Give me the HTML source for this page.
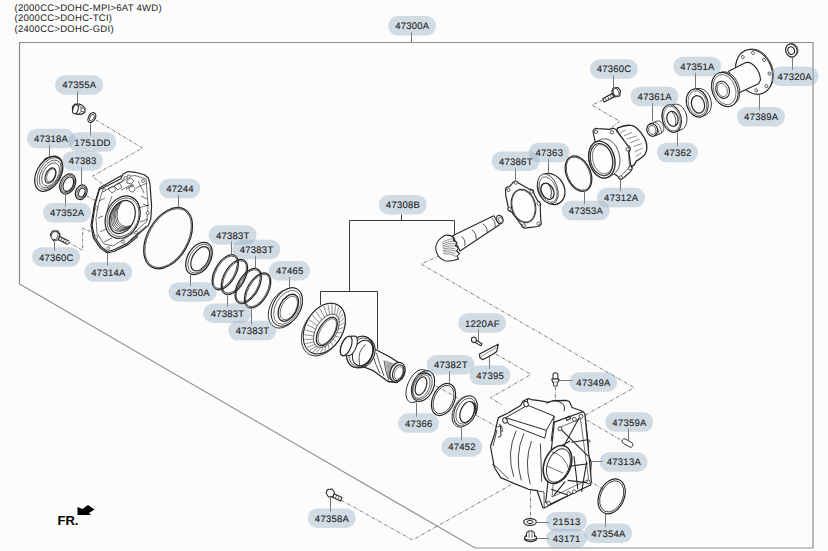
<!DOCTYPE html>
<html><head><meta charset="utf-8"><style>
html,body{margin:0;padding:0;background:#fff;}
svg{display:block;font-family:"Liberation Sans",sans-serif;}
</style></head><body>
<svg width="828" height="551" viewBox="0 0 828 551">
<rect width="828" height="551" fill="#fcfcfc"/>
<polygon points="19.5,42.5 813,42.5 813,548 475,548 19.5,284" fill="none" stroke="#8e8e8e" stroke-width="1.2"/>
<polyline points="96.00,120.00 142.50,148.00 92.00,176.40 106.00,186.50" fill="none" stroke="#444" stroke-width="0.7" stroke-dasharray="3,1.3,0.8,1.3" stroke-linejoin="round"/>
<polyline points="87.00,196.00 97.00,201.50" fill="none" stroke="#444" stroke-width="0.7" stroke-dasharray="3,1.3,0.8,1.3" stroke-linejoin="round"/>
<polyline points="68.00,242.00 82.60,250.40 82.60,228.00 91.00,231.80" fill="none" stroke="#444" stroke-width="0.7" stroke-dasharray="3,1.3,0.8,1.3" stroke-linejoin="round"/>
<polyline points="440.00,255.50 421.00,264.00 634.00,387.70 585.50,415.00" fill="none" stroke="#444" stroke-width="0.7" stroke-dasharray="3.5,1.4,0.8,1.4" stroke-linejoin="round"/>
<polyline points="341.00,500.00 412.50,540.00 512.40,484.00" fill="none" stroke="#444" stroke-width="0.7" stroke-dasharray="3.5,1.4,0.8,1.4" stroke-linejoin="round"/>
<polyline points="602.70,100.00 592.00,105.20 619.90,121.30 611.70,127.30" fill="none" stroke="#444" stroke-width="0.7" stroke-dasharray="3,1.3,0.8,1.3" stroke-linejoin="round"/>
<polyline points="495.80,354.00 531.00,374.40 490.60,397.80 501.80,404.80" fill="none" stroke="#444" stroke-width="0.7" stroke-dasharray="3.5,1.4,0.8,1.4" stroke-linejoin="round"/>
<polyline points="586.30,419.90 621.50,440.30" fill="none" stroke="#444" stroke-width="0.7" stroke-dasharray="3.5,1.4,0.8,1.4" stroke-linejoin="round"/>
<polyline points="555.40,387.00 555.40,410.00" fill="none" stroke="#444" stroke-width="0.7" stroke-dasharray="3.5,1.4,0.8,1.4" stroke-linejoin="round"/>
<polyline points="530.50,490.70 530.50,518.00" fill="none" stroke="#444" stroke-width="0.7" stroke-dasharray="3.5,1.4,0.8,1.4" stroke-linejoin="round"/>
<polyline points="470.00,411.90 496.40,426.50" fill="none" stroke="#444" stroke-width="0.7" stroke-dasharray="3.5,1.4,0.8,1.4" stroke-linejoin="round"/>
<polyline points="436.00,386.00 470.00,405.00" fill="none" stroke="#444" stroke-width="0.7" stroke-dasharray="3.5,1.4,0.8,1.4" stroke-linejoin="round"/>
<polyline points="588.00,480.00 604.00,490.00" fill="none" stroke="#444" stroke-width="0.7" stroke-dasharray="3.5,1.4,0.8,1.4" stroke-linejoin="round"/>
<polyline points="401.50,214.50 401.50,220.50" fill="none" stroke="#262626" stroke-width="0.9" stroke-linejoin="round"/>
<polyline points="349.50,220.50 454.50,220.50 454.50,236.00" fill="none" stroke="#262626" stroke-width="0.9" stroke-linejoin="round"/>
<polyline points="349.50,220.50 349.50,291.50" fill="none" stroke="#262626" stroke-width="0.9" stroke-linejoin="round"/>
<polyline points="320.50,305.00 320.50,291.50 377.50,291.50 377.50,349.00" fill="none" stroke="#262626" stroke-width="0.9" stroke-linejoin="round"/>
<ellipse cx="48.75" cy="173.75" rx="12.00" ry="19.00" transform="rotate(30 48.75 173.75)" fill="#fdfdfd" stroke="#262626" stroke-width="1.23" />
<ellipse cx="49.60" cy="173.60" rx="10.60" ry="17.40" transform="rotate(30 49.60 173.60)" fill="none" stroke="#262626" stroke-width="0.65" />
<ellipse cx="50.20" cy="174.00" rx="9.20" ry="15.20" transform="rotate(30 50.20 174.00)" fill="none" stroke="#262626" stroke-width="0.65" />
<ellipse cx="50.60" cy="174.50" rx="7.60" ry="12.60" transform="rotate(28 50.60 174.50)" fill="none" stroke="#262626" stroke-width="0.65" />
<ellipse cx="50.50" cy="175.50" rx="4.80" ry="8.00" transform="rotate(25 50.50 175.50)" fill="#fdfdfd" stroke="#262626" stroke-width="1.17" />
<ellipse cx="51.00" cy="175.30" rx="3.80" ry="6.80" transform="rotate(25 51.00 175.30)" fill="none" stroke="#262626" stroke-width="0.59" />
<path d="M44,159.5 Q50,155.5 57,157 Q62,159.5 62.5,164" fill="none" stroke="#262626" stroke-width="1.04" stroke-linejoin="round" />
<ellipse cx="67.75" cy="184.00" rx="7.40" ry="10.50" transform="rotate(26 67.75 184.00)" fill="#fdfdfd" stroke="#262626" stroke-width="1.23" />
<ellipse cx="67.90" cy="184.10" rx="6.10" ry="9.10" transform="rotate(26 67.90 184.10)" fill="none" stroke="#262626" stroke-width="0.65" />
<ellipse cx="68.30" cy="184.20" rx="4.80" ry="7.60" transform="rotate(24 68.30 184.20)" fill="#fdfdfd" stroke="#262626" stroke-width="1.17" />
<ellipse cx="81.25" cy="192.25" rx="5.60" ry="7.60" transform="rotate(22 81.25 192.25)" fill="#fdfdfd" stroke="#262626" stroke-width="1.23" />
<ellipse cx="81.50" cy="192.40" rx="4.20" ry="6.00" transform="rotate(22 81.50 192.40)" fill="none" stroke="#262626" stroke-width="0.65" />
<ellipse cx="81.80" cy="192.50" rx="3.00" ry="4.60" transform="rotate(20 81.80 192.50)" fill="#fdfdfd" stroke="#262626" stroke-width="1.04" />
<path d="M72.5,110.5 L72.5,107 L75,104.2 L79.5,104 L82.5,105.5 L85,108.5 L84.8,112.2 L82,114.2 L77.5,114.4 L74.5,113.2 Z" fill="#fdfdfd" stroke="#262626" stroke-width="1.17" stroke-linejoin="round" />
<path d="M78.5,104.5 L81,107.5 L81,111.5 L78.5,114.2 M81,107.5 L84.5,108.5 M81,111.5 L84.7,112" fill="none" stroke="#262626" stroke-width="0.72" stroke-linejoin="round" />
<ellipse cx="75.50" cy="109.20" rx="2.60" ry="4.60" transform="rotate(15 75.50 109.20)" fill="#fdfdfd" stroke="#262626" stroke-width="1.04" />
<ellipse cx="91.90" cy="117.60" rx="3.30" ry="5.40" transform="rotate(30 91.90 117.60)" fill="#fdfdfd" stroke="#262626" stroke-width="1.17" />
<ellipse cx="91.90" cy="117.60" rx="1.90" ry="3.80" transform="rotate(30 91.90 117.60)" fill="#fdfdfd" stroke="#262626" stroke-width="0.78" />
<path d="M57,235 L68.2,240.8 L66.8,244 L55.6,238.2 Z" fill="#fdfdfd" stroke="#262626" stroke-width="1.10" stroke-linejoin="round" />
<path d="M59.5,236.5 L58.3,239.6 M62,237.8 L60.8,240.9 M64.5,239.1 L63.3,242.2" fill="none" stroke="#262626" stroke-width="0.65" stroke-linejoin="round" />
<path d="M50.3,234.5 L52.6,231 L57.5,230.8 L60,234.4 L58.3,239.8 L53.5,240.7 Z" fill="#fdfdfd" stroke="#262626" stroke-width="1.17" stroke-linejoin="round" />
<ellipse cx="54.60" cy="235.60" rx="3.20" ry="4.20" transform="rotate(20 54.60 235.60)" fill="#fdfdfd" stroke="#262626" stroke-width="0.72" />
<ellipse cx="67.50" cy="242.40" rx="1.60" ry="1.90" transform="rotate(25 67.50 242.40)" fill="#fdfdfd" stroke="#262626" stroke-width="0.78" />
<path d="M121.6,175.5 L99.5,188 L94.5,204.2 L91,225.4 L93.3,237.6 L100,247.8 L107.3,253 L114.5,251.2 L128,244.6 L138,236.4" fill="none" stroke="#262626" stroke-width="1.17" stroke-linejoin="round" />
<path d="M123.1,174 L128,171.5 L135.3,172.3 L144.3,174.8 L148.4,178 L150,184.6 L151.6,205.8 L150.8,218.8 L148.4,225.4 L137,235.2 L127.2,243.3 L114.1,249.8 L107.6,251.5 L101,246.6 L94.5,236.8 L92.1,225.4 L95.3,204.2 L99.4,189.5 L107.6,185.4 L120.6,178.9 Z" fill="#fdfdfd" stroke="#262626" stroke-width="1.17" stroke-linejoin="round" />
<path d="M124.5,177 L135,175.5 L146,179 L148,205 L147,221 L135,232 L113,246 L104,244 L97,233 L96,218 L98.5,204 L102,192 L110,188 L122,182 Z" fill="none" stroke="#262626" stroke-width="0.65" stroke-linejoin="round" />
<ellipse cx="122.65" cy="217.20" rx="16.52" ry="22.01" transform="rotate(24 122.65 217.20)" fill="#fdfdfd" stroke="#262626" stroke-width="1.17" />
<ellipse cx="123.00" cy="217.25" rx="15.09" ry="19.97" transform="rotate(24 123.00 217.25)" fill="#fdfdfd" stroke="#262626" stroke-width="0.65" />
<ellipse cx="122.25" cy="217.00" rx="12.05" ry="17.25" transform="rotate(24 122.25 217.00)" fill="#fdfdfd" stroke="#262626" stroke-width="1.17" />
<clipPath id="cpb"><ellipse cx="122.25" cy="216.75" rx="11.75" ry="16.95" transform="rotate(30 122.25 216.75)"/></clipPath>
<g clip-path="url(#cpb)">
<ellipse cx="123.50" cy="215.50" rx="12.05" ry="17.25" transform="rotate(30 123.50 215.50)" fill="none" stroke="#262626" stroke-width="0.65" />
<ellipse cx="124.90" cy="214.50" rx="12.05" ry="17.25" transform="rotate(30 124.90 214.50)" fill="none" stroke="#262626" stroke-width="0.65" />
<ellipse cx="126.30" cy="213.50" rx="12.05" ry="17.25" transform="rotate(30 126.30 213.50)" fill="none" stroke="#262626" stroke-width="0.65" />
<ellipse cx="127.70" cy="212.50" rx="12.05" ry="17.25" transform="rotate(30 127.70 212.50)" fill="none" stroke="#262626" stroke-width="0.65" />
<ellipse cx="129.10" cy="211.50" rx="12.05" ry="17.25" transform="rotate(30 129.10 211.50)" fill="none" stroke="#262626" stroke-width="0.65" />
<ellipse cx="130.50" cy="210.50" rx="12.05" ry="17.25" transform="rotate(30 130.50 210.50)" fill="none" stroke="#262626" stroke-width="0.65" />
</g>
<circle cx="128.8" cy="176.4" r="1.5" fill="#fdfdfd" stroke="#262626" stroke-width="0.6"/>
<circle cx="143" cy="181" r="1.5" fill="#fdfdfd" stroke="#262626" stroke-width="0.6"/>
<circle cx="147.6" cy="213.1" r="1.5" fill="#fdfdfd" stroke="#262626" stroke-width="0.6"/>
<circle cx="136.1" cy="232.7" r="1.5" fill="#fdfdfd" stroke="#262626" stroke-width="0.6"/>
<circle cx="123.1" cy="241.7" r="1.5" fill="#fdfdfd" stroke="#262626" stroke-width="0.6"/>
<circle cx="108.4" cy="248.2" r="1.5" fill="#fdfdfd" stroke="#262626" stroke-width="0.6"/>
<circle cx="96.2" cy="236.8" r="1.5" fill="#fdfdfd" stroke="#262626" stroke-width="0.6"/>
<circle cx="96.5" cy="208" r="1.5" fill="#fdfdfd" stroke="#262626" stroke-width="0.6"/>
<circle cx="104" cy="190" r="1.5" fill="#fdfdfd" stroke="#262626" stroke-width="0.6"/>
<path d="M108,189 l5,-3 l3,4 l-4,3 z M114,186 l5,-3 l3,4 l-4,3 z M127,180 l4,-2 l3,3 l-3,3 l-4,-1 z M132,186 a3,3 0 1,0 0.1,0 M126,189 l8,-4 M138,181 l6,12 M141,196 l6,3 M143,204 l5,2 M99,201 l6,-3 M98,218 l5,-2 M117,184 L128,178 M121,190 L133,184 M136,188 L147,183 M138,208 L149,205 M140,222 L148,219 M100,232 L106,229 M104,242 L112,238 M130,240 L146,226 M112,196 Q108,205 107,212" fill="none" stroke="#262626" stroke-width="0.65" stroke-linejoin="round" />
<ellipse cx="168.10" cy="238.10" rx="20.60" ry="33.30" transform="rotate(30 168.10 238.10)" fill="none" stroke="#262626" stroke-width="1.23" />
<ellipse cx="168.10" cy="238.10" rx="19.40" ry="32.10" transform="rotate(30 168.10 238.10)" fill="none" stroke="#262626" stroke-width="0.72" />
<ellipse cx="199.00" cy="258.50" rx="11.40" ry="17.60" transform="rotate(31 199.00 258.50)" fill="#fdfdfd" stroke="#262626" stroke-width="1.23" />
<ellipse cx="199.50" cy="258.70" rx="9.80" ry="15.80" transform="rotate(31 199.50 258.70)" fill="none" stroke="#262626" stroke-width="0.65" />
<ellipse cx="200.20" cy="258.80" rx="7.80" ry="13.20" transform="rotate(30 200.20 258.80)" fill="#fdfdfd" stroke="#262626" stroke-width="1.17" />
<ellipse cx="225.30" cy="272.25" rx="10.30" ry="19.30" transform="rotate(30 225.30 272.25)" fill="none" stroke="#262626" stroke-width="1.23" />
<ellipse cx="225.30" cy="272.25" rx="9.10" ry="18.10" transform="rotate(30 225.30 272.25)" fill="none" stroke="#262626" stroke-width="0.72" />
<ellipse cx="234.45" cy="276.95" rx="10.30" ry="19.30" transform="rotate(30 234.45 276.95)" fill="none" stroke="#262626" stroke-width="1.23" />
<ellipse cx="234.45" cy="276.95" rx="9.10" ry="18.10" transform="rotate(30 234.45 276.95)" fill="none" stroke="#262626" stroke-width="0.72" />
<ellipse cx="248.20" cy="286.00" rx="10.30" ry="19.30" transform="rotate(30 248.20 286.00)" fill="none" stroke="#262626" stroke-width="1.23" />
<ellipse cx="248.20" cy="286.00" rx="9.10" ry="18.10" transform="rotate(30 248.20 286.00)" fill="none" stroke="#262626" stroke-width="0.72" />
<ellipse cx="257.60" cy="290.45" rx="10.30" ry="19.30" transform="rotate(30 257.60 290.45)" fill="none" stroke="#262626" stroke-width="1.23" />
<ellipse cx="257.60" cy="290.45" rx="9.10" ry="18.10" transform="rotate(30 257.60 290.45)" fill="none" stroke="#262626" stroke-width="0.72" />
<polygon points="268.33,314.75 268.40,313.12 268.60,311.44 268.92,309.75 269.35,308.05 269.90,306.35 270.57,304.67 271.33,303.01 272.20,301.40 273.16,299.84 274.21,298.35 275.34,296.93 276.54,295.61 277.79,294.38 279.10,293.26 280.45,292.25 281.83,291.37 283.23,290.62 284.64,290.00 287.12,288.96 288.48,288.49 289.83,288.15 291.16,287.96 292.45,287.91 293.70,288.01 294.90,288.25 296.03,288.64 297.10,289.16 298.09,289.82 298.99,290.61 299.80,291.53 300.51,292.56 301.11,293.71 301.61,294.95 301.99,296.29 302.26,297.70 302.41,299.19 302.44,300.74 302.36,302.34 302.15,303.97 301.83,305.62 301.39,307.29 300.84,308.95 300.19,310.60 299.43,312.22 298.58,313.80 297.64,315.33 296.61,316.79 295.51,318.19 294.34,319.49 292.46,321.39 291.21,322.62 289.90,323.74 288.55,324.75 287.17,325.63 285.77,326.38 284.36,327.00 282.95,327.47 281.56,327.80 280.18,327.98 278.84,328.02 277.54,327.90 276.29,327.64 275.11,327.24 274.00,326.69 272.97,326.00 272.02,325.18 271.17,324.23 270.43,323.16 269.79,321.98 269.26,320.70 268.85,319.33 268.55,317.87 268.38,316.34" fill="#fdfdfd" stroke="#262626" stroke-width="1.0" stroke-linejoin="round"/>
<ellipse cx="286.80" cy="307.00" rx="13.60" ry="20.60" transform="rotate(30 286.80 307.00)" fill="#fdfdfd" stroke="#262626" stroke-width="1.04" />
<ellipse cx="287.20" cy="307.30" rx="11.60" ry="18.40" transform="rotate(30 287.20 307.30)" fill="none" stroke="#262626" stroke-width="0.59" />
<ellipse cx="288.30" cy="307.80" rx="8.60" ry="14.60" transform="rotate(28 288.30 307.80)" fill="#fdfdfd" stroke="#262626" stroke-width="1.30" />
<ellipse cx="288.80" cy="308.00" rx="7.20" ry="12.80" transform="rotate(28 288.80 308.00)" fill="none" stroke="#262626" stroke-width="0.59" />
<polygon points="301.42,338.52 301.50,336.39 301.75,334.22 302.15,332.03 302.71,329.82 303.42,327.61 304.28,325.43 305.27,323.29 306.39,321.20 307.64,319.18 309.00,317.25 310.46,315.42 312.01,313.70 313.81,311.80 315.45,310.22 317.15,308.77 318.91,307.47 320.70,306.33 322.53,305.37 324.36,304.58 326.20,303.97 328.02,303.55 329.82,303.32 331.57,303.28 333.27,303.44 334.90,303.79 336.44,304.32 337.90,305.04 339.25,305.94 340.49,307.02 341.61,308.25 342.59,309.65 343.43,311.18 344.13,312.85 344.68,314.64 345.07,316.53 345.31,318.52 345.38,320.58 345.30,322.71 345.05,324.88 344.65,327.07 344.09,329.28 343.38,331.49 342.52,333.67 341.53,335.81 340.41,337.90 339.16,339.92 337.80,341.85 336.34,343.68 334.79,345.40 332.99,347.30 331.35,348.88 329.65,350.33 327.89,351.63 326.10,352.77 324.27,353.73 322.44,354.52 320.60,355.13 318.78,355.55 316.98,355.78 315.23,355.82 313.53,355.66 311.90,355.31 310.36,354.78 308.90,354.06 307.55,353.16 306.31,352.08 305.19,350.85 304.21,349.45 303.37,347.92 302.67,346.25 302.12,344.46 301.73,342.57 301.49,340.58" fill="#fdfdfd" stroke="#262626" stroke-width="0.95" stroke-linejoin="round"/>
<ellipse cx="324.30" cy="328.60" rx="18.60" ry="27.20" transform="rotate(30 324.30 328.60)" fill="#fdfdfd" stroke="#262626" stroke-width="1.10" />
<line x1="339.54" y1="337.40" x2="335.33" y2="336.10" stroke="#262626" stroke-width="0.5"/>
<line x1="336.51" y1="341.89" x2="333.27" y2="339.23" stroke="#262626" stroke-width="0.5"/>
<line x1="332.94" y1="345.80" x2="330.91" y2="342.00" stroke="#262626" stroke-width="0.5"/>
<line x1="328.99" y1="348.95" x2="328.36" y2="344.29" stroke="#262626" stroke-width="0.5"/>
<line x1="324.84" y1="351.22" x2="325.72" y2="346.00" stroke="#262626" stroke-width="0.5"/>
<line x1="320.66" y1="352.50" x2="323.12" y2="347.05" stroke="#262626" stroke-width="0.5"/>
<line x1="316.65" y1="352.73" x2="320.67" y2="347.40" stroke="#262626" stroke-width="0.5"/>
<line x1="312.96" y1="351.91" x2="318.47" y2="347.04" stroke="#262626" stroke-width="0.5"/>
<line x1="309.78" y1="350.07" x2="316.63" y2="345.97" stroke="#262626" stroke-width="0.5"/>
<line x1="307.23" y1="347.30" x2="315.21" y2="344.25" stroke="#262626" stroke-width="0.5"/>
<line x1="305.42" y1="343.70" x2="314.29" y2="341.95" stroke="#262626" stroke-width="0.5"/>
<line x1="304.44" y1="339.44" x2="313.90" y2="339.17" stroke="#262626" stroke-width="0.5"/>
<line x1="304.33" y1="334.72" x2="314.06" y2="336.04" stroke="#262626" stroke-width="0.5"/>
<line x1="305.09" y1="329.72" x2="314.77" y2="332.68" stroke="#262626" stroke-width="0.5"/>
<line x1="306.69" y1="324.67" x2="315.99" y2="329.25" stroke="#262626" stroke-width="0.5"/>
<line x1="309.06" y1="319.80" x2="317.67" y2="325.90" stroke="#262626" stroke-width="0.5"/>
<line x1="312.09" y1="315.31" x2="319.73" y2="322.77" stroke="#262626" stroke-width="0.5"/>
<line x1="315.66" y1="311.40" x2="322.09" y2="320.00" stroke="#262626" stroke-width="0.5"/>
<line x1="319.61" y1="308.25" x2="324.64" y2="317.71" stroke="#262626" stroke-width="0.5"/>
<line x1="323.76" y1="305.98" x2="327.28" y2="316.00" stroke="#262626" stroke-width="0.5"/>
<line x1="327.94" y1="304.70" x2="329.88" y2="314.95" stroke="#262626" stroke-width="0.5"/>
<line x1="331.95" y1="304.47" x2="332.33" y2="314.60" stroke="#262626" stroke-width="0.5"/>
<line x1="335.64" y1="305.29" x2="334.53" y2="314.96" stroke="#262626" stroke-width="0.5"/>
<line x1="338.82" y1="307.13" x2="336.37" y2="316.03" stroke="#262626" stroke-width="0.5"/>
<line x1="341.37" y1="309.90" x2="337.79" y2="317.75" stroke="#262626" stroke-width="0.5"/>
<line x1="343.18" y1="313.50" x2="338.71" y2="320.05" stroke="#262626" stroke-width="0.5"/>
<line x1="344.16" y1="317.76" x2="339.10" y2="322.83" stroke="#262626" stroke-width="0.5"/>
<line x1="344.27" y1="322.48" x2="338.94" y2="325.96" stroke="#262626" stroke-width="0.5"/>
<line x1="343.51" y1="327.48" x2="338.23" y2="329.32" stroke="#262626" stroke-width="0.5"/>
<line x1="341.91" y1="332.53" x2="337.01" y2="332.75" stroke="#262626" stroke-width="0.5"/>
<ellipse cx="326.30" cy="330.80" rx="10.40" ry="18.40" transform="rotate(30 326.30 330.80)" fill="none" stroke="#262626" stroke-width="0.65" />
<ellipse cx="326.80" cy="331.40" rx="8.00" ry="15.80" transform="rotate(30 326.80 331.40)" fill="#fdfdfd" stroke="#262626" stroke-width="1.23" />
<ellipse cx="327.20" cy="331.60" rx="6.80" ry="14.40" transform="rotate(30 327.20 331.60)" fill="none" stroke="#262626" stroke-width="0.59" />
<path d="M366,344.5 L389,356.5 L397,361.5 L404.5,368 L397,382.5 L388,381.5 L372.7,370.3 L360,365.5 Z" fill="#fdfdfd" stroke="#262626" stroke-width="1.30" stroke-linejoin="round" />
<path d="M373,355 Q375,364 380,373.5 M376.5,353 Q379,363 384,376 M384,360.5 Q385,371 389,380.5" fill="none" stroke="#262626" stroke-width="0.78" stroke-linejoin="round" />
<line x1="385.5" y1="360.5" x2="388.5" y2="378.5" stroke="#262626" stroke-width="0.45"/>
<line x1="386.7" y1="360.9" x2="389.5" y2="379.0" stroke="#262626" stroke-width="0.45"/>
<line x1="387.9" y1="361.3" x2="390.5" y2="379.5" stroke="#262626" stroke-width="0.45"/>
<line x1="389.1" y1="361.7" x2="391.5" y2="380.0" stroke="#262626" stroke-width="0.45"/>
<line x1="390.3" y1="362.1" x2="392.5" y2="380.5" stroke="#262626" stroke-width="0.45"/>
<line x1="391.5" y1="362.5" x2="393.5" y2="381.0" stroke="#262626" stroke-width="0.45"/>
<line x1="392.7" y1="362.9" x2="394.5" y2="381.5" stroke="#262626" stroke-width="0.45"/>
<line x1="393.9" y1="363.3" x2="395.5" y2="382.0" stroke="#262626" stroke-width="0.45"/>
<line x1="395.1" y1="363.7" x2="396.5" y2="382.5" stroke="#262626" stroke-width="0.45"/>
<ellipse cx="397.50" cy="372.20" rx="7.20" ry="10.20" transform="rotate(22 397.50 372.20)" fill="#fdfdfd" stroke="#262626" stroke-width="1.30" />
<ellipse cx="398.20" cy="372.60" rx="5.20" ry="8.20" transform="rotate(22 398.20 372.60)" fill="#fdfdfd" stroke="#262626" stroke-width="1.17" />
<ellipse cx="398.60" cy="372.90" rx="3.80" ry="6.60" transform="rotate(22 398.60 372.90)" fill="#fdfdfd" stroke="#262626" stroke-width="0.52" />
<polygon points="346.51,354.70 346.57,353.34 346.74,351.97 347.01,350.60 347.38,349.24 347.84,347.90 348.40,346.59 349.04,345.32 349.77,344.11 350.58,342.95 351.45,341.86 352.40,340.85 353.40,339.93 354.45,339.10 355.54,338.36 356.67,337.73 357.82,337.21 358.99,336.80 360.17,336.50 361.34,336.33 362.51,336.27 363.65,336.33 364.77,336.51 365.85,336.81 366.89,337.23 367.87,337.75 368.80,338.39 370.61,339.77 371.43,340.48 372.18,341.28 372.85,342.17 373.44,343.13 373.94,344.18 374.36,345.28 374.68,346.45 374.91,347.66 375.04,348.91 375.07,350.20 375.01,351.50 374.85,352.81 374.59,354.12 374.23,355.42 373.79,356.70 373.26,357.96 372.64,359.17 371.94,360.33 371.17,361.44 370.34,362.48 369.43,363.45 368.48,364.33 367.48,365.13 366.43,365.84 365.36,366.44 364.26,366.94 363.14,367.34 362.02,367.62 360.90,367.79 359.79,367.85 357.49,367.73 356.35,367.67 355.23,367.49 354.15,367.19 353.11,366.77 352.13,366.25 351.20,365.61 350.34,364.87 349.56,364.03 348.85,363.10 348.23,362.09 347.70,361.00 347.27,359.84 346.93,358.62 346.69,357.35 346.55,356.04" fill="#fdfdfd" stroke="#262626" stroke-width="1.05" stroke-linejoin="round"/>
<ellipse cx="360.00" cy="352.00" rx="12.80" ry="16.30" transform="rotate(25 360.00 352.00)" fill="#fdfdfd" stroke="#262626" stroke-width="1.17" />
<ellipse cx="361.00" cy="352.30" rx="11.40" ry="15.00" transform="rotate(25 361.00 352.30)" fill="none" stroke="#262626" stroke-width="0.65" />
<ellipse cx="362.60" cy="353.00" rx="9.60" ry="13.20" transform="rotate(25 362.60 353.00)" fill="none" stroke="#262626" stroke-width="1.04" />
<path d="M366,344.5 Q357,350 359.5,365" fill="none" stroke="#262626" stroke-width="0.78" stroke-linejoin="round" />
<polygon points="340.31,350.76 340.34,350.00 340.42,349.22 340.54,348.41 340.70,347.58 340.90,346.73 341.15,345.89 341.43,345.04 341.75,344.20 342.10,343.38 342.49,342.57 342.90,341.79 343.34,341.04 343.80,340.33 344.27,339.67 344.77,339.05 345.27,338.48 345.78,337.98 346.30,337.53 346.81,337.15 347.32,336.83 347.82,336.58 348.30,336.41 348.78,336.31 349.23,336.28 354.53,336.08 354.96,336.13 355.36,336.25 355.73,336.44 356.07,336.71 356.38,337.04 356.65,337.44 356.88,337.90 357.07,338.43 357.21,339.01 357.32,339.64 357.38,340.32 357.39,341.04 357.36,341.80 357.28,342.58 357.16,343.39 357.00,344.22 356.80,345.07 356.55,345.91 356.27,346.76 355.95,347.60 355.60,348.42 355.21,349.23 354.80,350.01 354.36,350.76 353.90,351.47 353.43,352.13 352.93,352.75 352.43,353.32 351.92,353.82 351.40,354.27 350.89,354.65 350.38,354.97 349.88,355.22 349.40,355.39 348.92,355.49 348.47,355.52 343.17,355.72 342.74,355.67 342.34,355.55 341.97,355.36 341.63,355.09 341.32,354.76 341.05,354.36 340.82,353.90 340.63,353.37 340.49,352.79 340.38,352.16 340.32,351.48" fill="#fdfdfd" stroke="#262626" stroke-width="1.05" stroke-linejoin="round"/>
<ellipse cx="346.20" cy="346.00" rx="4.80" ry="10.30" transform="rotate(22 346.20 346.00)" fill="#fdfdfd" stroke="#262626" stroke-width="1.17" />
<polygon points="405.99,393.41 406.03,392.10 406.16,390.75 406.37,389.37 406.67,387.95 407.04,386.52 407.49,385.09 408.01,383.67 408.60,382.26 409.25,380.88 409.96,379.54 410.72,378.25 411.54,377.02 412.39,375.85 413.28,374.77 414.20,373.76 415.14,372.86 416.09,372.05 417.05,371.35 418.01,370.76 418.96,370.28 419.90,369.93 420.81,369.70 421.70,369.59 422.55,369.61 423.36,369.75 428.65,371.07 429.51,371.38 430.32,371.81 431.07,372.35 431.77,372.99 432.40,373.73 432.95,374.56 433.43,375.48 433.83,376.48 434.15,377.55 434.38,378.68 434.53,379.88 434.59,381.11 434.56,382.39 434.44,383.69 434.24,385.01 433.95,386.34 433.58,387.67 433.12,388.98 432.59,390.27 431.99,391.53 431.32,392.74 430.58,393.91 429.79,395.01 428.94,396.05 428.05,397.01 427.12,397.88 426.16,398.67 425.18,399.36 424.18,399.94 423.17,400.42 422.16,400.79 421.16,401.05 413.19,402.30 412.30,402.41 411.45,402.39 410.64,402.25 409.88,401.99 409.18,401.60 408.53,401.09 407.95,400.47 407.44,399.74 407.00,398.91 406.63,397.97 406.35,396.95 406.14,395.84 406.02,394.66" fill="#fdfdfd" stroke="#262626" stroke-width="1.0" stroke-linejoin="round"/>
<ellipse cx="423.00" cy="386.00" rx="10.50" ry="16.00" transform="rotate(24 423.00 386.00)" fill="#fdfdfd" stroke="#262626" stroke-width="1.04" />
<ellipse cx="422.20" cy="386.30" rx="9.00" ry="14.20" transform="rotate(24 422.20 386.30)" fill="#fdfdfd" stroke="#262626" stroke-width="0.65" />
<ellipse cx="421.50" cy="386.50" rx="7.60" ry="12.50" transform="rotate(24 421.50 386.50)" fill="#fdfdfd" stroke="#262626" stroke-width="0.65" />
<ellipse cx="421.00" cy="386.00" rx="5.20" ry="9.60" transform="rotate(20 421.00 386.00)" fill="#fdfdfd" stroke="#262626" stroke-width="1.17" />
<path d="M418,374.5 Q426,370.5 431,376" fill="none" stroke="#262626" stroke-width="1.30" stroke-linejoin="round" />
<ellipse cx="443.50" cy="399.55" rx="10.90" ry="16.88" transform="rotate(24 443.50 399.55)" fill="none" stroke="#262626" stroke-width="1.17" />
<ellipse cx="443.50" cy="399.55" rx="9.34" ry="15.03" transform="rotate(24 443.50 399.55)" fill="none" stroke="#262626" stroke-width="0.78" />
<polygon points="452.12,416.24 452.21,414.93 452.39,413.60 452.66,412.25 453.01,410.89 453.45,409.54 453.97,408.21 454.56,406.90 455.23,405.62 455.96,404.39 456.76,403.22 457.61,402.10 458.50,401.06 459.44,400.10 460.42,399.22 461.42,398.44 462.44,397.76 463.47,397.18 464.51,396.71 465.55,396.36 466.57,396.11 467.57,395.99 468.86,395.91 469.83,395.92 470.77,396.04 471.66,396.27 472.51,396.62 473.31,397.08 474.05,397.64 474.72,398.30 475.32,399.06 475.85,399.91 476.29,400.85 476.66,401.86 476.94,402.94 477.13,404.09 477.24,405.28 477.25,406.52 477.18,407.80 477.02,409.09 476.77,410.41 476.43,411.72 476.01,413.04 475.51,414.33 474.94,415.60 474.29,416.84 473.58,418.03 472.80,419.17 471.97,420.24 471.09,421.25 470.17,422.18 469.21,423.02 468.22,423.77 467.21,424.42 466.19,424.97 464.53,425.82 463.49,426.29 462.45,426.64 461.43,426.89 460.43,427.01 459.46,427.02 458.52,426.90 457.62,426.67 456.77,426.33 455.97,425.87 455.24,425.31 454.57,424.63 453.98,423.86 453.46,423.00 453.02,422.04 452.66,421.01 452.39,419.90 452.21,418.73 452.12,417.51" fill="#fdfdfd" stroke="#262626" stroke-width="1.0" stroke-linejoin="round"/>
<ellipse cx="465.50" cy="411.00" rx="10.50" ry="16.00" transform="rotate(26 465.50 411.00)" fill="#fdfdfd" stroke="#262626" stroke-width="0.91" />
<ellipse cx="465.80" cy="411.20" rx="8.80" ry="13.80" transform="rotate(26 465.80 411.20)" fill="#fdfdfd" stroke="#262626" stroke-width="0.65" />
<ellipse cx="467.20" cy="412.00" rx="6.60" ry="11.00" transform="rotate(22 467.20 412.00)" fill="#fdfdfd" stroke="#262626" stroke-width="1.17" />
<path d="M472,402 Q477,405 476,414" fill="none" stroke="#262626" stroke-width="1.43" stroke-linejoin="round" />
<path d="M498.3,417.6 L507.6,413.2 L520.7,405.6 L522.8,401.3 L528.3,398.5 L531.5,399.6 L539.2,400.7 L549,402.3 L553.3,400.7 L566.1,400.4 L569.4,401.5 L572.1,407.5 L582.5,411.3 L584.7,414.6 L587.9,440.8 L588.5,455 L591.2,462.2 L589.9,484.4 L544.2,508 L542.8,507.6 L540.1,499.5 L537.2,490.7 L528.5,489.3 L513.9,483.4 L500.7,477.6 L494.4,467.5 L490.5,446.3 L494.5,434.5 Z" fill="#fdfdfd" stroke="#262626" stroke-width="1.17" stroke-linejoin="round" />
<path d="M505.6,417.7 L527.6,405.2 L554.3,416.2 L546.4,430.3 L505.6,417.7 M508.7,424 L544.8,438.2 M505.6,417.7 L508.7,424 M546.4,430.3 L544.8,438.2 M554.3,416.2 L551.1,441.3 M497.5,427 L500.5,425.5 L501,436 L498,437.5 M527.6,405.2 L527.6,399 M546.4,403.6 Q552,399 560,402 Q566,405 564,411" fill="none" stroke="#262626" stroke-width="0.98" stroke-linejoin="round" />
<ellipse cx="505.00" cy="420.50" rx="2.20" ry="2.80" transform="rotate(-20 505.00 420.50)" fill="#fdfdfd" stroke="#262626" stroke-width="0.91" />
<ellipse cx="526.00" cy="404.00" rx="2.20" ry="2.80" transform="rotate(-20 526.00 404.00)" fill="#fdfdfd" stroke="#262626" stroke-width="0.91" />
<path d="M516.2,430.8 Q506,453 513.7,476.6 M523.9,433.4 Q514,456 521.3,480.4 M531.5,441 Q524,461 530.2,484.2 M540.4,443.5 L541.7,481.7 M497,430 L493,446 M492,463.9 L497.2,467.7 L508.6,479.1 M499,424 Q503,426 502,432" fill="none" stroke="#262626" stroke-width="0.85" stroke-linejoin="round" />
<path d="M537.2,490.7 L544,492 L544.2,508" fill="none" stroke="#262626" stroke-width="0.78" stroke-linejoin="round" />
<path d="M554.3,422.1 L582.9,411.7 L584.8,413.6 L591.4,481.2 L590.5,485 L550.5,504 L545.7,502.1 L547.6,485 Z" fill="#fdfdfd" stroke="#262626" stroke-width="1.17" stroke-linejoin="round" />
<path d="M558,427.9 L580.5,419 L588.6,479.3 L552,497 L556.2,448.8" fill="none" stroke="#262626" stroke-width="0.65" stroke-linejoin="round" />
<path d="M560,428.3 L588,456.2 M579,418.1 L563.8,446 M556.2,448.6 L570.2,441 M571.5,442.2 L588,439.7 M551.1,489.2 L568.9,495.6 M553.7,495.6 L565.1,481.6 M567.7,480.4 L588,482.9 M581.6,491.8 L586.7,461.3 M568.9,466.4 L588,463.8 M574,456.2 L577.8,489.2 M566,417.9 L569.5,416 L570.5,418.5 L567,420.5 Z" fill="none" stroke="#262626" stroke-width="1.10" stroke-linejoin="round" />
<circle cx="560" cy="428.8" r="2.0" fill="#fdfdfd" stroke="#262626" stroke-width="0.8"/>
<circle cx="574.3" cy="419.3" r="2.0" fill="#fdfdfd" stroke="#262626" stroke-width="0.8"/>
<circle cx="581" cy="416.4" r="2.0" fill="#fdfdfd" stroke="#262626" stroke-width="0.8"/>
<circle cx="588.6" cy="482.1" r="1.8" fill="#fdfdfd" stroke="#262626" stroke-width="0.8"/>
<circle cx="574.3" cy="491.7" r="1.8" fill="#fdfdfd" stroke="#262626" stroke-width="0.8"/>
<circle cx="568.6" cy="493.6" r="1.8" fill="#fdfdfd" stroke="#262626" stroke-width="0.8"/>
<circle cx="548.6" cy="503.1" r="1.8" fill="#fdfdfd" stroke="#262626" stroke-width="0.8"/>
<circle cx="589" cy="441" r="1.0" fill="#fdfdfd" stroke="#262626" stroke-width="0.8"/>
<ellipse cx="557.50" cy="464.50" rx="13.20" ry="19.80" transform="rotate(22 557.50 464.50)" fill="#fdfdfd" stroke="#262626" stroke-width="1.56" />
<ellipse cx="558.40" cy="465.50" rx="10.80" ry="17.40" transform="rotate(22 558.40 465.50)" fill="#fdfdfd" stroke="#262626" stroke-width="0.91" />
<path d="M552,452 Q565,455 569,470 M547,466 L563,473" fill="none" stroke="#262626" stroke-width="0.65" stroke-linejoin="round" />
<ellipse cx="611.65" cy="496.40" rx="12.55" ry="18.21" transform="rotate(24 611.65 496.40)" fill="none" stroke="#262626" stroke-width="1.17" />
<ellipse cx="611.70" cy="496.40" rx="11.07" ry="16.35" transform="rotate(24 611.70 496.40)" fill="none" stroke="#262626" stroke-width="0.78" />
<ellipse cx="530.00" cy="522.00" rx="6.30" ry="3.40" transform="rotate(0 530.00 522.00)" fill="#fdfdfd" stroke="#262626" stroke-width="1.17" />
<ellipse cx="530.00" cy="522.00" rx="3.10" ry="1.60" transform="rotate(0 530.00 522.00)" fill="#fdfdfd" stroke="#262626" stroke-width="0.91" />
<path d="M524.6,537.5 L524.6,539.8 Q530.5,543.8 536.4,539.8 L536.4,537.5" fill="#fdfdfd" stroke="#262626" stroke-width="1.04" stroke-linejoin="round" />
<ellipse cx="530.50" cy="537.50" rx="5.90" ry="2.60" transform="rotate(0 530.50 537.50)" fill="#fdfdfd" stroke="#262626" stroke-width="1.04" />
<path d="M526.5,537 L526.5,533 L528.5,531 L532.5,531 L534.5,533 L534.5,537" fill="#fdfdfd" stroke="#262626" stroke-width="1.04" stroke-linejoin="round" />
<path d="M529,531.5 L529,537.8 M532,531.5 L532,537.8" fill="none" stroke="#262626" stroke-width="0.65" stroke-linejoin="round" />
<path d="M553,379 L553,374 Q555.4,371.5 557.8,374 L557.8,379 Z" fill="#fdfdfd" stroke="#262626" stroke-width="1.04" stroke-linejoin="round" />
<path d="M551.8,379 L559,379 L558.2,382.2 L552.6,382.2 Z" fill="#fdfdfd" stroke="#262626" stroke-width="1.04" stroke-linejoin="round" />
<path d="M553.6,382.2 L553.6,386 L557.2,386 L557.2,382.2" fill="#fdfdfd" stroke="#262626" stroke-width="0.91" stroke-linejoin="round" />
<rect x="621.5" y="440.6" width="12" height="4.8" rx="2.4" transform="rotate(30 627.5 443)" fill="#fdfdfd" stroke="#262626" stroke-width="0.85"/>
<path d="M475,339.5 L482,343.8 L481,345.9 L474,341.8 Z" fill="#fdfdfd" stroke="#262626" stroke-width="1.04" stroke-linejoin="round" />
<path d="M471.6,338 L473.8,336.9 L476.2,338.3 L476.2,341.6 L474,342.8 L471.6,341.3 Z" fill="#fdfdfd" stroke="#262626" stroke-width="1.04" stroke-linejoin="round" />
<path d="M479.5,354 L498.3,344.2 L496.7,351.6 L492.5,354.5 L482.8,359.7 L479.8,357.5 Z" fill="#fdfdfd" stroke="#262626" stroke-width="1.17" stroke-linejoin="round" />
<path d="M481,356.5 L496.5,347.5" fill="none" stroke="#262626" stroke-width="0.52" stroke-linejoin="round" />
<path d="M332.5,493 L342,497.5 L340.5,501 L331,496.5 Z" fill="#fdfdfd" stroke="#262626" stroke-width="1.04" stroke-linejoin="round" />
<path d="M334,494 L333,497 M336.5,495 L335.5,498.5 M339,496.5 L338,499.5" fill="none" stroke="#262626" stroke-width="0.65" stroke-linejoin="round" />
<path d="M326,493 L327.5,489.5 L332,489 L334.5,492.5 L333,496.5 L328.5,497 Z" fill="#fdfdfd" stroke="#262626" stroke-width="1.04" stroke-linejoin="round" />
<path d="M452.6,235.8 L493.7,215.8 L499.5,224.7 L460,251 Z" fill="#fdfdfd" stroke="#262626" stroke-width="1.04" stroke-linejoin="round" />
<path d="M461.6,236.3 Q466,240 464.7,245.8 M472,229.5 Q477,234 476.3,239.5 M482.6,223.7 Q488,227 487,233 M491.5,218 Q496,221 495,227" fill="none" stroke="#262626" stroke-width="0.78" stroke-linejoin="round" />
<ellipse cx="499.75" cy="219.50" rx="3.24" ry="4.37" transform="rotate(-24 499.75 219.50)" fill="#fdfdfd" stroke="#262626" stroke-width="1.04" />
<ellipse cx="500.25" cy="219.75" rx="2.11" ry="2.86" transform="rotate(-24 500.25 219.75)" fill="#fdfdfd" stroke="#262626" stroke-width="0.65" />
<path d="M445.4,235.3 Q437,239 435.6,247.6 Q436,257 444.6,260.7 Q451,262 458.5,259 L457,256 L459.5,253.5 L456.5,251 L458.5,248 L455.5,245.5 L457,242.5 L453.5,240.5 L453.5,237.5 Q450,234.5 445.4,235.3 Z" fill="#fdfdfd" stroke="#262626" stroke-width="1.04" stroke-linejoin="round" />
<path d="M442.0,242.5 Q449.8,238.3 455.5,238.5" fill="none" stroke="#262626" stroke-width="0.5"/>
<path d="M442.2,244.1 Q450.3,240.4 456.4,241.1" fill="none" stroke="#262626" stroke-width="0.5"/>
<path d="M442.4,245.7 Q449.9,242.5 455.5,243.7" fill="none" stroke="#262626" stroke-width="0.5"/>
<path d="M442.6,247.3 Q450.5,244.6 456.4,246.3" fill="none" stroke="#262626" stroke-width="0.5"/>
<path d="M442.8,248.9 Q450.1,246.7 455.5,248.9" fill="none" stroke="#262626" stroke-width="0.5"/>
<path d="M443.0,250.5 Q450.7,248.8 456.4,251.5" fill="none" stroke="#262626" stroke-width="0.5"/>
<path d="M443.2,252.1 Q450.4,250.9 455.5,254.1" fill="none" stroke="#262626" stroke-width="0.5"/>
<path d="M443.4,253.7 Q450.9,253.0 456.4,256.7" fill="none" stroke="#262626" stroke-width="0.5"/>
<path d="M505.6,190.5 Q505.5,186.5 509.5,186.6 L513.2,182.3 Q516.5,179.8 518.5,183 L529.8,189.5 Q534.2,189 533.8,193.4 L537.6,200.8 Q541.5,202.5 540.2,206.5 L540.8,220.6 Q542.5,225.5 537.8,226.5 L526.5,227.8 Q522.5,229 521.6,225.4 L511.6,211.8 Q507.2,211.5 508.3,207 L505.8,196 Z" fill="#fdfdfd" stroke="#262626" stroke-width="1.17" stroke-linejoin="round" />
<ellipse cx="523.50" cy="206.00" rx="12.00" ry="17.00" transform="rotate(-14 523.50 206.00)" fill="#fdfdfd" stroke="#262626" stroke-width="1.04" />
<ellipse cx="523.50" cy="206.00" rx="11.20" ry="16.20" transform="rotate(-14 523.50 206.00)" fill="none" stroke="#262626" stroke-width="0.52" />
<circle cx="508.6" cy="190" r="1.6" fill="#fdfdfd" stroke="#262626" stroke-width="0.7"/>
<circle cx="515.8" cy="182.7" r="1.6" fill="#fdfdfd" stroke="#262626" stroke-width="0.7"/>
<circle cx="531.2" cy="191.8" r="1.6" fill="#fdfdfd" stroke="#262626" stroke-width="0.7"/>
<circle cx="538.5" cy="203.6" r="1.6" fill="#fdfdfd" stroke="#262626" stroke-width="0.7"/>
<circle cx="538.5" cy="223.6" r="1.6" fill="#fdfdfd" stroke="#262626" stroke-width="0.7"/>
<circle cx="524" cy="225.4" r="1.6" fill="#fdfdfd" stroke="#262626" stroke-width="0.7"/>
<circle cx="509.6" cy="209" r="1.6" fill="#fdfdfd" stroke="#262626" stroke-width="0.7"/>
<ellipse cx="551.20" cy="189.00" rx="12.80" ry="16.30" transform="rotate(-30 551.20 189.00)" fill="#fdfdfd" stroke="#262626" stroke-width="1.30" />
<ellipse cx="547.90" cy="188.80" rx="9.40" ry="15.60" transform="rotate(-20 547.90 188.80)" fill="#fdfdfd" stroke="#262626" stroke-width="0.78" />
<ellipse cx="548.20" cy="189.60" rx="8.00" ry="13.40" transform="rotate(-22 548.20 189.60)" fill="none" stroke="#262626" stroke-width="0.59" />
<ellipse cx="547.50" cy="191.20" rx="5.90" ry="8.60" transform="rotate(-28 547.50 191.20)" fill="#fdfdfd" stroke="#262626" stroke-width="1.30" />
<path d="M548.5,184.5 Q553,190 550.5,198" fill="none" stroke="#262626" stroke-width="0.91" stroke-linejoin="round" />
<ellipse cx="578.50" cy="173.70" rx="12.00" ry="18.60" transform="rotate(-24 578.50 173.70)" fill="none" stroke="#262626" stroke-width="1.23" />
<ellipse cx="578.50" cy="173.70" rx="11.00" ry="17.60" transform="rotate(-24 578.50 173.70)" fill="none" stroke="#262626" stroke-width="0.72" />
<path d="M617.4,128.2 C621,126.5 627,124.8 631,125.4 C636,126 641,132 644.6,138.1 C647,143 647.5,149 645.5,153.5 C643.5,157 639,159.5 636.5,160.8 L633.8,165.3 L627,168 L614,150 Z" fill="#fdfdfd" stroke="#262626" stroke-width="1.30" stroke-linejoin="round" />
<line x1="620.2" y1="132.7" x2="625.6" y2="130" stroke="#262626" stroke-width="0.5"/>
<line x1="623.8" y1="135.9" x2="632" y2="132.5" stroke="#262626" stroke-width="0.5"/>
<line x1="626.5" y1="139" x2="636.5" y2="136" stroke="#262626" stroke-width="0.5"/>
<line x1="630.1" y1="142.7" x2="639.5" y2="139" stroke="#262626" stroke-width="0.5"/>
<line x1="633.8" y1="146.3" x2="642" y2="143.5" stroke="#262626" stroke-width="0.5"/>
<line x1="634.7" y1="151.7" x2="642.5" y2="148.1" stroke="#262626" stroke-width="0.5"/>
<line x1="635.6" y1="156.3" x2="641" y2="153" stroke="#262626" stroke-width="0.5"/>
<path d="M593,131.5 Q593.5,127.8 598,128.6 L610,129.3 Q614,126.8 617.2,130.8 L627.6,145.5 Q632.2,146.8 629,152.5 L630.6,164.8 Q634,168 630.4,171.6 L624,177.5 Q620.5,182 617.5,176 L600,165 Z" fill="#fdfdfd" stroke="#262626" stroke-width="1.17" stroke-linejoin="round" />
<path d="M616,131 L628,146 L629.5,167 L621,176" fill="none" stroke="#262626" stroke-width="0.65" stroke-linejoin="round" />
<circle cx="611.9" cy="132.3" r="1.7" fill="#fdfdfd" stroke="#262626" stroke-width="0.75"/>
<circle cx="627.6" cy="149.3" r="1.7" fill="#fdfdfd" stroke="#262626" stroke-width="0.75"/>
<circle cx="630" cy="168.2" r="1.7" fill="#fdfdfd" stroke="#262626" stroke-width="0.75"/>
<circle cx="620.8" cy="177.5" r="1.7" fill="#fdfdfd" stroke="#262626" stroke-width="0.75"/>
<circle cx="596" cy="131.8" r="1.7" fill="#fdfdfd" stroke="#262626" stroke-width="0.75"/>
<polygon points="588.62,156.27 588.67,154.70 588.82,153.16 589.07,151.67 589.41,150.25 589.85,148.89 590.38,147.62 591.00,146.43 591.70,145.35 592.48,144.38 593.33,143.52 594.24,142.78 595.21,142.17 596.24,141.70 601.48,139.38 602.52,139.05 603.60,138.85 604.70,138.80 605.82,138.88 606.94,139.10 608.07,139.45 609.19,139.94 610.29,140.56 611.37,141.31 612.41,142.17 613.41,143.15 614.37,144.23 615.27,145.41 616.10,146.67 616.87,148.02 617.56,149.43 618.17,150.90 618.69,152.42 619.13,153.98 619.47,155.55 619.72,157.14 619.87,158.72 619.93,160.30 619.88,161.85 619.74,163.36 619.50,164.82 619.17,166.22 618.74,167.55 618.22,168.81 617.62,169.97 616.94,171.03 616.18,171.99 615.35,172.83 614.46,173.56 613.51,174.15 608.49,177.03 607.46,177.50 606.40,177.84 605.30,178.04 604.17,178.10 603.03,178.02 601.88,177.80 600.72,177.44 599.58,176.95 598.45,176.32 597.35,175.56 596.28,174.69 595.26,173.70 594.29,172.60 593.37,171.40 592.52,170.12 591.73,168.75 591.03,167.31 590.41,165.82 589.87,164.27 589.43,162.70 589.08,161.09 588.83,159.48 588.68,157.87" fill="#fdfdfd" stroke="#262626" stroke-width="0.8" stroke-linejoin="round"/>
<ellipse cx="601.85" cy="159.60" rx="12.80" ry="18.80" transform="rotate(-14 601.85 159.60)" fill="#fdfdfd" stroke="#262626" stroke-width="1.30" />
<ellipse cx="601.60" cy="159.60" rx="11.00" ry="16.40" transform="rotate(-14 601.60 159.60)" fill="#fdfdfd" stroke="#262626" stroke-width="1.04" />
<ellipse cx="602.50" cy="159.30" rx="9.80" ry="15.00" transform="rotate(-14 602.50 159.30)" fill="none" stroke="#262626" stroke-width="0.59" />
<path d="M602.7,98.7 L612,93.5 L613.8,97.1 L604.3,102 Z" fill="#fdfdfd" stroke="#262626" stroke-width="1.10" stroke-linejoin="round" />
<path d="M605,97.5 L606.5,100.5 M607.5,96 L609,99.3 M610,94.7 L611.5,98" fill="none" stroke="#262626" stroke-width="0.65" stroke-linejoin="round" />
<path d="M611.8,91.5 L613.3,88 L618,87.5 L620.6,91 L619.6,96 L615,97 Z" fill="#fdfdfd" stroke="#262626" stroke-width="1.17" stroke-linejoin="round" />
<ellipse cx="616.00" cy="92.20" rx="2.80" ry="4.00" transform="rotate(-20 616.00 92.20)" fill="#fdfdfd" stroke="#262626" stroke-width="0.72" />
<polygon points="646.87,129.07 646.91,128.53 646.99,128.00 647.11,127.48 647.26,126.98 647.46,126.50 647.69,126.05 647.96,125.62 648.26,125.23 648.59,124.88 648.94,124.56 649.32,124.28 649.73,124.05 650.15,123.86 656.36,121.27 656.79,121.12 657.24,121.03 657.69,120.99 658.15,120.99 658.61,121.05 659.07,121.15 659.53,121.31 659.98,121.51 660.42,121.75 660.84,122.04 661.25,122.37 661.63,122.74 662.00,123.15 662.33,123.59 662.64,124.05 662.91,124.55 663.15,125.07 663.35,125.60 663.52,126.15 663.65,126.71 663.74,127.28 663.79,127.85 663.80,128.42 663.77,128.97 663.70,129.52 663.59,130.05 663.45,130.57 663.26,131.06 663.04,131.52 662.78,131.95 662.49,132.35 662.17,132.71 661.82,133.03 661.45,133.31 661.05,133.54 660.64,133.73 654.35,135.94 653.91,136.08 653.45,136.18 652.99,136.23 652.52,136.23 652.06,136.18 651.59,136.08 651.12,135.94 650.67,135.75 650.23,135.52 649.80,135.24 649.39,134.92 649.01,134.57 648.64,134.18 648.31,133.76 648.01,133.30 647.73,132.82 647.50,132.32 647.29,131.81 647.13,131.27 647.01,130.73 646.92,130.18 646.88,129.62" fill="#fdfdfd" stroke="#262626" stroke-width="0.9" stroke-linejoin="round"/>
<ellipse cx="652.25" cy="129.90" rx="5.30" ry="6.40" transform="rotate(-15 652.25 129.90)" fill="#fdfdfd" stroke="#262626" stroke-width="1.04" />
<path d="M652.5,123.6 Q657,124 659.2,134 M655,122.5 Q660,123 661.8,133 M650.2,124.6 Q655,125.5 656.2,135.5" fill="none" stroke="#262626" stroke-width="0.72" stroke-linejoin="round" />
<ellipse cx="652.30" cy="129.90" rx="3.60" ry="4.60" transform="rotate(-15 652.30 129.90)" fill="#fdfdfd" stroke="#262626" stroke-width="0.65" />
<polygon points="662.02,115.99 662.05,114.82 662.16,113.68 662.34,112.57 662.59,111.51 662.91,110.50 663.29,109.56 663.74,108.68 664.26,107.87 664.83,107.15 665.45,106.51 666.12,105.97 666.83,105.52 667.58,105.17 668.36,104.92 669.17,104.77 675.59,104.25 676.35,104.22 677.12,104.28 677.90,104.44 678.68,104.69 679.45,105.04 680.21,105.47 680.95,106.00 681.68,106.61 682.37,107.30 683.03,108.06 683.65,108.89 684.23,109.78 684.77,110.73 685.25,111.73 685.67,112.76 686.04,113.83 686.34,114.92 686.59,116.03 686.76,117.14 686.87,118.26 686.92,119.36 686.89,120.45 686.80,121.51 686.64,122.53 686.41,123.51 686.12,124.45 685.77,125.33 685.36,126.14 684.90,126.88 684.38,127.55 683.81,128.14 683.20,128.65 682.55,129.06 681.86,129.38 675.92,131.83 675.14,132.08 674.33,132.23 673.50,132.27 672.66,132.21 671.81,132.04 670.96,131.77 670.12,131.40 669.29,130.93 668.48,130.37 667.70,129.71 666.94,128.97 666.22,128.15 665.54,127.26 664.92,126.30 664.34,125.28 663.82,124.21 663.36,123.10 662.96,121.95 662.63,120.77 662.37,119.58 662.18,118.38 662.06,117.18" fill="#fdfdfd" stroke="#262626" stroke-width="1.0" stroke-linejoin="round"/>
<ellipse cx="671.75" cy="118.50" rx="9.40" ry="14.00" transform="rotate(-14 671.75 118.50)" fill="#fdfdfd" stroke="#262626" stroke-width="1.04" />
<ellipse cx="671.90" cy="118.60" rx="8.00" ry="12.60" transform="rotate(-14 671.90 118.60)" fill="none" stroke="#262626" stroke-width="0.59" />
<ellipse cx="672.50" cy="118.85" rx="5.60" ry="7.60" transform="rotate(-14 672.50 118.85)" fill="#fdfdfd" stroke="#262626" stroke-width="1.23" />
<path d="M672,112 Q677,117 675.5,125" fill="none" stroke="#262626" stroke-width="0.78" stroke-linejoin="round" />
<polygon points="686.33,101.04 686.35,99.84 686.45,98.66 686.64,97.51 686.91,96.40 687.26,95.35 687.68,94.35 688.18,93.42 688.74,92.56 689.37,91.78 690.06,91.08 690.81,90.48 691.60,89.97 692.44,89.56 693.31,89.25 694.21,89.05 698.05,88.54 698.92,88.46 699.81,88.47 700.71,88.59 701.62,88.81 702.51,89.13 703.40,89.55 704.26,90.07 705.11,90.67 705.92,91.36 706.69,92.13 707.42,92.98 708.10,93.90 708.73,94.87 709.30,95.90 709.81,96.98 710.24,98.10 710.61,99.24 710.91,100.41 711.13,101.59 711.27,102.77 711.33,103.95 711.32,105.11 711.23,106.25 711.06,107.35 710.81,108.42 710.49,109.43 710.09,110.39 709.63,111.29 709.10,112.11 708.51,112.86 707.86,113.52 707.16,114.10 706.42,114.59 705.63,114.97 702.06,116.44 701.19,116.75 700.29,116.95 699.36,117.04 698.42,117.03 697.47,116.92 696.52,116.69 695.57,116.37 694.63,115.94 693.72,115.41 692.83,114.79 691.98,114.07 691.16,113.28 690.40,112.40 689.68,111.46 689.02,110.45 688.43,109.38 687.90,108.26 687.44,107.11 687.06,105.92 686.76,104.71 686.53,103.49 686.39,102.26" fill="#fdfdfd" stroke="#262626" stroke-width="1.0" stroke-linejoin="round"/>
<ellipse cx="697.25" cy="103.00" rx="10.60" ry="14.30" transform="rotate(-16 697.25 103.00)" fill="#fdfdfd" stroke="#262626" stroke-width="1.04" />
<ellipse cx="697.40" cy="103.20" rx="9.00" ry="12.70" transform="rotate(-16 697.40 103.20)" fill="none" stroke="#262626" stroke-width="0.59" />
<ellipse cx="698.00" cy="104.35" rx="6.40" ry="8.90" transform="rotate(-16 698.00 104.35)" fill="#fdfdfd" stroke="#262626" stroke-width="1.23" />
<polygon points="735.71,66.95 735.84,65.07 736.11,63.24 736.52,61.48 737.06,59.80 737.73,58.21 738.53,56.73 739.44,55.36 740.47,54.12 741.60,53.01 742.83,52.04 744.14,51.23 745.53,50.57 747.03,50.05 748.44,49.57 749.90,49.26 751.40,49.11 752.94,49.13 754.49,49.32 756.05,49.67 757.61,50.18 759.15,50.85 760.66,51.68 762.13,52.65 763.56,53.76 764.92,55.01 766.21,56.37 767.42,57.85 768.53,59.43 769.55,61.09 770.46,62.83 771.26,64.63 771.94,66.48 772.49,68.37 772.92,70.27 773.21,72.18 773.36,74.08 773.38,75.96 773.27,77.80 773.02,79.59 772.63,81.31 772.12,82.96 771.48,84.51 770.71,85.96 769.83,87.30 768.85,88.51 767.83,89.68 766.70,90.79 765.47,91.76 764.16,92.57 762.77,93.23 761.31,93.72 759.80,94.05 758.25,94.21 756.67,94.19 755.06,94.01 753.45,93.66 751.85,93.15 750.26,92.47 748.70,91.64 747.19,90.66 745.72,89.53 744.33,88.27 743.00,86.89 741.76,85.39 740.62,83.79 739.58,82.10 738.64,80.33 737.83,78.49 737.14,76.61 736.58,74.69 736.16,72.75 735.87,70.80 735.72,68.86" fill="#fdfdfd" stroke="#262626" stroke-width="0.95" stroke-linejoin="round"/>
<ellipse cx="754.15" cy="71.90" rx="17.60" ry="23.00" transform="rotate(-22 754.15 71.90)" fill="#fdfdfd" stroke="#262626" stroke-width="1.04" />
<ellipse cx="769.5" cy="73.6" rx="1.3" ry="1.7" transform="rotate(-25 769.5 73.6)" fill="#fdfdfd" stroke="#262626" stroke-width="0.7"/>
<ellipse cx="766.4" cy="86.2" rx="1.3" ry="1.7" transform="rotate(-25 766.4 86.2)" fill="#fdfdfd" stroke="#262626" stroke-width="0.7"/>
<ellipse cx="756.3" cy="90.3" rx="1.3" ry="1.7" transform="rotate(-25 756.3 90.3)" fill="#fdfdfd" stroke="#262626" stroke-width="0.7"/>
<ellipse cx="745.2" cy="83.4" rx="1.3" ry="1.7" transform="rotate(-25 745.2 83.4)" fill="#fdfdfd" stroke="#262626" stroke-width="0.7"/>
<ellipse cx="739.7" cy="69.6" rx="1.3" ry="1.7" transform="rotate(-25 739.7 69.6)" fill="#fdfdfd" stroke="#262626" stroke-width="0.7"/>
<ellipse cx="742.8" cy="57.0" rx="1.3" ry="1.7" transform="rotate(-25 742.8 57.0)" fill="#fdfdfd" stroke="#262626" stroke-width="0.7"/>
<ellipse cx="752.9" cy="52.9" rx="1.3" ry="1.7" transform="rotate(-25 752.9 52.9)" fill="#fdfdfd" stroke="#262626" stroke-width="0.7"/>
<ellipse cx="764.0" cy="59.8" rx="1.3" ry="1.7" transform="rotate(-25 764.0 59.8)" fill="#fdfdfd" stroke="#262626" stroke-width="0.7"/>
<path d="M728.6,71.2 L745.8,62.6 C752,61 760,70 760.5,79.9 L758.5,83.8 L738.5,93.1 Z" fill="#fdfdfd" stroke="#262626" stroke-width="1.10" stroke-linejoin="round" />
<polygon points="711.63,86.42 711.64,84.96 711.75,83.54 711.96,82.17 712.27,80.85 712.68,79.60 713.18,78.42 713.77,77.33 714.44,76.33 715.19,75.43 716.02,74.64 716.92,73.96 717.87,73.40 718.88,72.96 719.94,72.65 722.12,72.04 723.16,71.87 724.24,71.83 725.33,71.91 726.43,72.12 727.54,72.45 728.65,72.91 729.74,73.48 730.81,74.17 731.86,74.97 732.86,75.87 733.82,76.86 734.73,77.95 735.58,79.12 736.37,80.35 737.08,81.65 737.72,83.00 738.28,84.40 738.75,85.82 739.13,87.26 739.41,88.72 739.61,90.17 739.71,91.61 739.71,93.03 739.61,94.41 739.42,95.75 739.13,97.03 738.75,98.24 738.29,99.39 737.73,100.45 737.10,101.41 736.38,102.28 735.60,103.05 734.75,103.70 732.88,105.04 731.93,105.60 730.92,106.04 729.86,106.35 728.77,106.54 727.65,106.59 726.51,106.52 725.35,106.31 724.19,105.98 723.04,105.52 721.90,104.94 720.78,104.24 719.70,103.43 718.65,102.52 717.66,101.50 716.71,100.40 715.83,99.21 715.02,97.94 714.29,96.62 713.63,95.23 713.06,93.81 712.58,92.35 712.19,90.87 711.91,89.38 711.72,87.89" fill="#fdfdfd" stroke="#262626" stroke-width="0.95" stroke-linejoin="round"/>
<ellipse cx="724.90" cy="89.50" rx="12.60" ry="17.60" transform="rotate(-20 724.90 89.50)" fill="#fdfdfd" stroke="#262626" stroke-width="1.04" />
<ellipse cx="724.60" cy="89.60" rx="10.80" ry="15.60" transform="rotate(-20 724.60 89.60)" fill="none" stroke="#262626" stroke-width="0.59" />
<ellipse cx="722.60" cy="89.80" rx="6.60" ry="8.80" transform="rotate(-20 722.60 89.80)" fill="#fdfdfd" stroke="#262626" stroke-width="1.10" />
<ellipse cx="722.30" cy="90.00" rx="4.80" ry="6.80" transform="rotate(-20 722.30 90.00)" fill="#fdfdfd" stroke="#262626" stroke-width="0.59" />
<polygon points="785.68,49.61 785.71,49.06 785.79,48.51 785.92,47.98 786.08,47.47 786.29,46.98 786.53,46.52 786.81,46.09 787.13,45.69 787.48,45.33 787.86,45.01 788.26,44.72 788.69,44.49 789.14,44.30 789.61,44.15 790.91,43.84 791.36,43.75 791.82,43.71 792.28,43.72 792.74,43.77 793.21,43.87 793.67,44.01 794.12,44.19 794.56,44.42 794.98,44.69 795.39,45.00 795.77,45.35 796.13,45.73 796.47,46.14 796.77,46.57 797.04,47.04 797.28,47.52 797.49,48.02 797.65,48.54 797.78,49.06 797.87,49.59 797.92,50.12 797.92,50.65 797.89,51.17 797.82,51.68 797.71,52.18 797.55,52.66 797.37,53.12 797.14,53.55 796.88,53.96 796.59,54.33 795.67,55.31 795.32,55.67 794.94,55.99 794.54,56.28 794.11,56.51 793.66,56.70 793.19,56.85 792.71,56.94 792.22,56.99 791.72,56.98 791.22,56.93 790.72,56.83 790.23,56.68 789.75,56.48 789.28,56.24 788.82,55.95 788.38,55.63 787.97,55.26 787.58,54.86 787.23,54.42 786.90,53.96 786.61,53.46 786.35,52.95 786.14,52.42 785.96,51.87 785.83,51.31 785.73,50.74 785.68,50.18" fill="#fdfdfd" stroke="#262626" stroke-width="0.95" stroke-linejoin="round"/>
<ellipse cx="791.40" cy="50.50" rx="5.60" ry="6.60" transform="rotate(-20 791.40 50.50)" fill="#fdfdfd" stroke="#262626" stroke-width="1.04" />
<ellipse cx="791.20" cy="50.60" rx="3.20" ry="3.90" transform="rotate(-20 791.20 50.60)" fill="#fdfdfd" stroke="#262626" stroke-width="1.04" />
<line x1="77.5" y1="91.2" x2="77.5" y2="104.3" stroke="#747474" stroke-width="1"/>
<line x1="90.5" y1="123.4" x2="90.5" y2="135.75" stroke="#747474" stroke-width="1"/>
<line x1="49.5" y1="144.85" x2="49.5" y2="156" stroke="#747474" stroke-width="1"/>
<line x1="81.5" y1="167.15" x2="81.5" y2="185" stroke="#747474" stroke-width="1"/>
<line x1="65.5" y1="195" x2="65.5" y2="206.5" stroke="#747474" stroke-width="1"/>
<line x1="54.5" y1="240" x2="54.5" y2="250.75" stroke="#747474" stroke-width="1"/>
<line x1="107.5" y1="253" x2="107.5" y2="265.8" stroke="#747474" stroke-width="1"/>
<line x1="178.5" y1="194.75" x2="178.5" y2="207.5" stroke="#747474" stroke-width="1"/>
<line x1="231.5" y1="241.35" x2="231.5" y2="255.5" stroke="#747474" stroke-width="1"/>
<line x1="255.5" y1="255.7" x2="255.5" y2="268.5" stroke="#747474" stroke-width="1"/>
<line x1="227.5" y1="294.2" x2="227.5" y2="306.95" stroke="#747474" stroke-width="1"/>
<line x1="251.5" y1="307.7" x2="251.5" y2="324.35" stroke="#747474" stroke-width="1"/>
<line x1="289.5" y1="276.95" x2="289.5" y2="288.1" stroke="#747474" stroke-width="1"/>
<line x1="190.5" y1="274" x2="190.5" y2="285.85" stroke="#747474" stroke-width="1"/>
<line x1="478.5" y1="329.25" x2="478.5" y2="341" stroke="#747474" stroke-width="1"/>
<line x1="489.5" y1="356.5" x2="489.5" y2="369.0" stroke="#747474" stroke-width="1"/>
<line x1="449.5" y1="370.95000000000005" x2="449.5" y2="383.5" stroke="#747474" stroke-width="1"/>
<line x1="416.5" y1="403" x2="416.5" y2="416.79999999999995" stroke="#747474" stroke-width="1"/>
<line x1="461.5" y1="427.3" x2="461.5" y2="440.70000000000005" stroke="#747474" stroke-width="1"/>
<line x1="559" y1="380.5" x2="572.75" y2="380.5" stroke="#747474" stroke-width="1"/>
<line x1="628.5" y1="428.25" x2="628.5" y2="440.3" stroke="#747474" stroke-width="1"/>
<line x1="591" y1="461.5" x2="603.1500000000001" y2="461.5" stroke="#747474" stroke-width="1"/>
<line x1="537" y1="522.5" x2="549.4" y2="522.5" stroke="#747474" stroke-width="1"/>
<line x1="537" y1="538.5" x2="549.4" y2="538.5" stroke="#747474" stroke-width="1"/>
<line x1="605.5" y1="513.8" x2="605.5" y2="527.0" stroke="#747474" stroke-width="1"/>
<line x1="330.5" y1="497" x2="330.5" y2="511.875" stroke="#747474" stroke-width="1"/>
<line x1="613.5" y1="75.2" x2="613.5" y2="88" stroke="#747474" stroke-width="1"/>
<line x1="695.5" y1="72.75" x2="695.5" y2="88.75" stroke="#747474" stroke-width="1"/>
<line x1="792.5" y1="56" x2="792.5" y2="70.0" stroke="#747474" stroke-width="1"/>
<line x1="652.5" y1="102.75" x2="652.5" y2="121" stroke="#747474" stroke-width="1"/>
<line x1="759.5" y1="95" x2="759.5" y2="110.5" stroke="#747474" stroke-width="1"/>
<line x1="677.5" y1="132.5" x2="677.5" y2="146.25" stroke="#747474" stroke-width="1"/>
<line x1="515.5" y1="167.5" x2="515.5" y2="181.3" stroke="#747474" stroke-width="1"/>
<line x1="548.5" y1="158.75" x2="548.5" y2="173.6" stroke="#747474" stroke-width="1"/>
<line x1="584.5" y1="191" x2="584.5" y2="204.25" stroke="#747474" stroke-width="1"/>
<line x1="620.5" y1="178" x2="620.5" y2="191.25" stroke="#747474" stroke-width="1"/>
<line x1="411.5" y1="32.05" x2="411.5" y2="42.5" stroke="#747474" stroke-width="1"/>
<rect x="388.10" y="16.05" width="48" height="19.5" rx="9.75" fill="rgb(150,175,196)" fill-opacity="0.42"/>
<rect x="55.05" y="75.20" width="48" height="19.5" rx="9.75" fill="rgb(150,175,196)" fill-opacity="0.42"/>
<rect x="68.30" y="132.25" width="48" height="19.5" rx="9.75" fill="rgb(150,175,196)" fill-opacity="0.42"/>
<rect x="26.85" y="128.85" width="48" height="19.5" rx="9.75" fill="rgb(150,175,196)" fill-opacity="0.42"/>
<rect x="61.95" y="151.15" width="41" height="19.5" rx="9.75" fill="rgb(150,175,196)" fill-opacity="0.42"/>
<rect x="43.00" y="203.00" width="48" height="19.5" rx="9.75" fill="rgb(150,175,196)" fill-opacity="0.42"/>
<rect x="32.10" y="247.25" width="48" height="19.5" rx="9.75" fill="rgb(150,175,196)" fill-opacity="0.42"/>
<rect x="84.20" y="262.30" width="48" height="19.5" rx="9.75" fill="rgb(150,175,196)" fill-opacity="0.42"/>
<rect x="159.25" y="178.75" width="41" height="19.5" rx="9.75" fill="rgb(150,175,196)" fill-opacity="0.42"/>
<rect x="208.50" y="225.35" width="48" height="19.5" rx="9.75" fill="rgb(150,175,196)" fill-opacity="0.42"/>
<rect x="232.35" y="239.70" width="48" height="19.5" rx="9.75" fill="rgb(150,175,196)" fill-opacity="0.42"/>
<rect x="269.00" y="260.95" width="41" height="19.5" rx="9.75" fill="rgb(150,175,196)" fill-opacity="0.42"/>
<rect x="168.50" y="282.35" width="48" height="19.5" rx="9.75" fill="rgb(150,175,196)" fill-opacity="0.42"/>
<rect x="203.30" y="303.45" width="48" height="19.5" rx="9.75" fill="rgb(150,175,196)" fill-opacity="0.42"/>
<rect x="228.25" y="320.85" width="48" height="19.5" rx="9.75" fill="rgb(150,175,196)" fill-opacity="0.42"/>
<rect x="378.75" y="195.00" width="48" height="19.5" rx="9.75" fill="rgb(150,175,196)" fill-opacity="0.42"/>
<rect x="458.15" y="313.25" width="48" height="19.5" rx="9.75" fill="rgb(150,175,196)" fill-opacity="0.42"/>
<rect x="426.60" y="354.95" width="48" height="19.5" rx="9.75" fill="rgb(150,175,196)" fill-opacity="0.42"/>
<rect x="469.40" y="365.50" width="41" height="19.5" rx="9.75" fill="rgb(150,175,196)" fill-opacity="0.42"/>
<rect x="398.00" y="413.30" width="41" height="19.5" rx="9.75" fill="rgb(150,175,196)" fill-opacity="0.42"/>
<rect x="441.30" y="437.20" width="41" height="19.5" rx="9.75" fill="rgb(150,175,196)" fill-opacity="0.42"/>
<rect x="569.25" y="372.30" width="48" height="19.5" rx="9.75" fill="rgb(150,175,196)" fill-opacity="0.42"/>
<rect x="605.25" y="412.25" width="48" height="19.5" rx="9.75" fill="rgb(150,175,196)" fill-opacity="0.42"/>
<rect x="599.65" y="452.15" width="48" height="19.5" rx="9.75" fill="rgb(150,175,196)" fill-opacity="0.42"/>
<rect x="545.90" y="511.95" width="41" height="19.5" rx="9.75" fill="rgb(150,175,196)" fill-opacity="0.42"/>
<rect x="545.90" y="528.70" width="41" height="19.5" rx="9.75" fill="rgb(150,175,196)" fill-opacity="0.42"/>
<rect x="584.20" y="523.50" width="48" height="19.5" rx="9.75" fill="rgb(150,175,196)" fill-opacity="0.42"/>
<rect x="307.75" y="508.38" width="48" height="19.5" rx="9.75" fill="rgb(150,175,196)" fill-opacity="0.42"/>
<rect x="589.85" y="59.20" width="48" height="19.5" rx="9.75" fill="rgb(150,175,196)" fill-opacity="0.42"/>
<rect x="673.25" y="56.75" width="48" height="19.5" rx="9.75" fill="rgb(150,175,196)" fill-opacity="0.42"/>
<rect x="770.50" y="66.50" width="48" height="19.5" rx="9.75" fill="rgb(150,175,196)" fill-opacity="0.42"/>
<rect x="630.50" y="86.75" width="48" height="19.5" rx="9.75" fill="rgb(150,175,196)" fill-opacity="0.42"/>
<rect x="737.00" y="107.00" width="48" height="19.5" rx="9.75" fill="rgb(150,175,196)" fill-opacity="0.42"/>
<rect x="657.00" y="142.75" width="41" height="19.5" rx="9.75" fill="rgb(150,175,196)" fill-opacity="0.42"/>
<rect x="491.60" y="151.50" width="48" height="19.5" rx="9.75" fill="rgb(150,175,196)" fill-opacity="0.42"/>
<rect x="528.60" y="142.75" width="41" height="19.5" rx="9.75" fill="rgb(150,175,196)" fill-opacity="0.42"/>
<rect x="561.75" y="200.75" width="48" height="19.5" rx="9.75" fill="rgb(150,175,196)" fill-opacity="0.42"/>
<rect x="597.00" y="187.75" width="48" height="19.5" rx="9.75" fill="rgb(150,175,196)" fill-opacity="0.42"/>
<text x="412.35" y="29.30" text-anchor="middle" font-size="9.5" letter-spacing="0.25" text-rendering="geometricPrecision" fill="#1e1e1e" stroke="#1e1e1e" stroke-width="0.12">47300A</text>
<text x="79.30" y="88.45" text-anchor="middle" font-size="9.5" letter-spacing="0.25" text-rendering="geometricPrecision" fill="#1e1e1e" stroke="#1e1e1e" stroke-width="0.12">47355A</text>
<text x="92.55" y="145.50" text-anchor="middle" font-size="9.5" letter-spacing="0.25" text-rendering="geometricPrecision" fill="#1e1e1e" stroke="#1e1e1e" stroke-width="0.12">1751DD</text>
<text x="51.10" y="142.10" text-anchor="middle" font-size="9.5" letter-spacing="0.25" text-rendering="geometricPrecision" fill="#1e1e1e" stroke="#1e1e1e" stroke-width="0.12">47318A</text>
<text x="82.70" y="164.40" text-anchor="middle" font-size="9.5" letter-spacing="0.25" text-rendering="geometricPrecision" fill="#1e1e1e" stroke="#1e1e1e" stroke-width="0.12">47383</text>
<text x="67.25" y="216.25" text-anchor="middle" font-size="9.5" letter-spacing="0.25" text-rendering="geometricPrecision" fill="#1e1e1e" stroke="#1e1e1e" stroke-width="0.12">47352A</text>
<text x="56.35" y="260.50" text-anchor="middle" font-size="9.5" letter-spacing="0.25" text-rendering="geometricPrecision" fill="#1e1e1e" stroke="#1e1e1e" stroke-width="0.12">47360C</text>
<text x="108.45" y="275.55" text-anchor="middle" font-size="9.5" letter-spacing="0.25" text-rendering="geometricPrecision" fill="#1e1e1e" stroke="#1e1e1e" stroke-width="0.12">47314A</text>
<text x="180.00" y="192.00" text-anchor="middle" font-size="9.5" letter-spacing="0.25" text-rendering="geometricPrecision" fill="#1e1e1e" stroke="#1e1e1e" stroke-width="0.12">47244</text>
<text x="232.75" y="238.60" text-anchor="middle" font-size="9.5" letter-spacing="0.25" text-rendering="geometricPrecision" fill="#1e1e1e" stroke="#1e1e1e" stroke-width="0.12">47383T</text>
<text x="256.60" y="252.95" text-anchor="middle" font-size="9.5" letter-spacing="0.25" text-rendering="geometricPrecision" fill="#1e1e1e" stroke="#1e1e1e" stroke-width="0.12">47383T</text>
<text x="289.75" y="274.20" text-anchor="middle" font-size="9.5" letter-spacing="0.25" text-rendering="geometricPrecision" fill="#1e1e1e" stroke="#1e1e1e" stroke-width="0.12">47465</text>
<text x="192.75" y="295.60" text-anchor="middle" font-size="9.5" letter-spacing="0.25" text-rendering="geometricPrecision" fill="#1e1e1e" stroke="#1e1e1e" stroke-width="0.12">47350A</text>
<text x="227.55" y="316.70" text-anchor="middle" font-size="9.5" letter-spacing="0.25" text-rendering="geometricPrecision" fill="#1e1e1e" stroke="#1e1e1e" stroke-width="0.12">47383T</text>
<text x="252.50" y="334.10" text-anchor="middle" font-size="9.5" letter-spacing="0.25" text-rendering="geometricPrecision" fill="#1e1e1e" stroke="#1e1e1e" stroke-width="0.12">47383T</text>
<text x="403.00" y="208.25" text-anchor="middle" font-size="9.5" letter-spacing="0.25" text-rendering="geometricPrecision" fill="#1e1e1e" stroke="#1e1e1e" stroke-width="0.12">47308B</text>
<text x="482.40" y="326.50" text-anchor="middle" font-size="9.5" letter-spacing="0.25" text-rendering="geometricPrecision" fill="#1e1e1e" stroke="#1e1e1e" stroke-width="0.12">1220AF</text>
<text x="450.85" y="368.20" text-anchor="middle" font-size="9.5" letter-spacing="0.25" text-rendering="geometricPrecision" fill="#1e1e1e" stroke="#1e1e1e" stroke-width="0.12">47382T</text>
<text x="490.15" y="378.75" text-anchor="middle" font-size="9.5" letter-spacing="0.25" text-rendering="geometricPrecision" fill="#1e1e1e" stroke="#1e1e1e" stroke-width="0.12">47395</text>
<text x="418.75" y="426.55" text-anchor="middle" font-size="9.5" letter-spacing="0.25" text-rendering="geometricPrecision" fill="#1e1e1e" stroke="#1e1e1e" stroke-width="0.12">47366</text>
<text x="462.05" y="450.45" text-anchor="middle" font-size="9.5" letter-spacing="0.25" text-rendering="geometricPrecision" fill="#1e1e1e" stroke="#1e1e1e" stroke-width="0.12">47452</text>
<text x="593.50" y="385.55" text-anchor="middle" font-size="9.5" letter-spacing="0.25" text-rendering="geometricPrecision" fill="#1e1e1e" stroke="#1e1e1e" stroke-width="0.12">47349A</text>
<text x="629.50" y="425.50" text-anchor="middle" font-size="9.5" letter-spacing="0.25" text-rendering="geometricPrecision" fill="#1e1e1e" stroke="#1e1e1e" stroke-width="0.12">47359A</text>
<text x="623.90" y="465.40" text-anchor="middle" font-size="9.5" letter-spacing="0.25" text-rendering="geometricPrecision" fill="#1e1e1e" stroke="#1e1e1e" stroke-width="0.12">47313A</text>
<text x="566.65" y="525.20" text-anchor="middle" font-size="9.5" letter-spacing="0.25" text-rendering="geometricPrecision" fill="#1e1e1e" stroke="#1e1e1e" stroke-width="0.12">21513</text>
<text x="566.65" y="541.95" text-anchor="middle" font-size="9.5" letter-spacing="0.25" text-rendering="geometricPrecision" fill="#1e1e1e" stroke="#1e1e1e" stroke-width="0.12">43171</text>
<text x="608.45" y="536.75" text-anchor="middle" font-size="9.5" letter-spacing="0.25" text-rendering="geometricPrecision" fill="#1e1e1e" stroke="#1e1e1e" stroke-width="0.12">47354A</text>
<text x="332.00" y="521.62" text-anchor="middle" font-size="9.5" letter-spacing="0.25" text-rendering="geometricPrecision" fill="#1e1e1e" stroke="#1e1e1e" stroke-width="0.12">47358A</text>
<text x="614.10" y="72.45" text-anchor="middle" font-size="9.5" letter-spacing="0.25" text-rendering="geometricPrecision" fill="#1e1e1e" stroke="#1e1e1e" stroke-width="0.12">47360C</text>
<text x="697.50" y="70.00" text-anchor="middle" font-size="9.5" letter-spacing="0.25" text-rendering="geometricPrecision" fill="#1e1e1e" stroke="#1e1e1e" stroke-width="0.12">47351A</text>
<text x="794.75" y="79.75" text-anchor="middle" font-size="9.5" letter-spacing="0.25" text-rendering="geometricPrecision" fill="#1e1e1e" stroke="#1e1e1e" stroke-width="0.12">47320A</text>
<text x="654.75" y="100.00" text-anchor="middle" font-size="9.5" letter-spacing="0.25" text-rendering="geometricPrecision" fill="#1e1e1e" stroke="#1e1e1e" stroke-width="0.12">47361A</text>
<text x="761.25" y="120.25" text-anchor="middle" font-size="9.5" letter-spacing="0.25" text-rendering="geometricPrecision" fill="#1e1e1e" stroke="#1e1e1e" stroke-width="0.12">47389A</text>
<text x="677.75" y="156.00" text-anchor="middle" font-size="9.5" letter-spacing="0.25" text-rendering="geometricPrecision" fill="#1e1e1e" stroke="#1e1e1e" stroke-width="0.12">47362</text>
<text x="515.85" y="164.75" text-anchor="middle" font-size="9.5" letter-spacing="0.25" text-rendering="geometricPrecision" fill="#1e1e1e" stroke="#1e1e1e" stroke-width="0.12">47386T</text>
<text x="549.35" y="156.00" text-anchor="middle" font-size="9.5" letter-spacing="0.25" text-rendering="geometricPrecision" fill="#1e1e1e" stroke="#1e1e1e" stroke-width="0.12">47363</text>
<text x="586.00" y="214.00" text-anchor="middle" font-size="9.5" letter-spacing="0.25" text-rendering="geometricPrecision" fill="#1e1e1e" stroke="#1e1e1e" stroke-width="0.12">47353A</text>
<text x="621.25" y="201.00" text-anchor="middle" font-size="9.5" letter-spacing="0.25" text-rendering="geometricPrecision" fill="#1e1e1e" stroke="#1e1e1e" stroke-width="0.12">47312A</text>
<text x="14.5" y="10.8" font-size="9.5" letter-spacing="0.27" text-rendering="geometricPrecision" fill="#222">(2000CC&gt;DOHC-MPI&gt;6AT 4WD)</text>
<text x="14.5" y="21.3" font-size="9.5" letter-spacing="0.27" text-rendering="geometricPrecision" fill="#222">(2000CC&gt;DOHC-TCI)</text>
<text x="14.5" y="31.7" font-size="9.5" letter-spacing="0.27" text-rendering="geometricPrecision" fill="#222">(2400CC&gt;DOHC-GDI)</text>
<text x="57.5" y="525" font-size="13" font-weight="bold" fill="#000">FR.</text>
<polygon points="77.5,507 82.5,509 88,505 94.5,509.5 89,513 91,515 77.5,515" fill="#000"/>
</svg></body></html>
